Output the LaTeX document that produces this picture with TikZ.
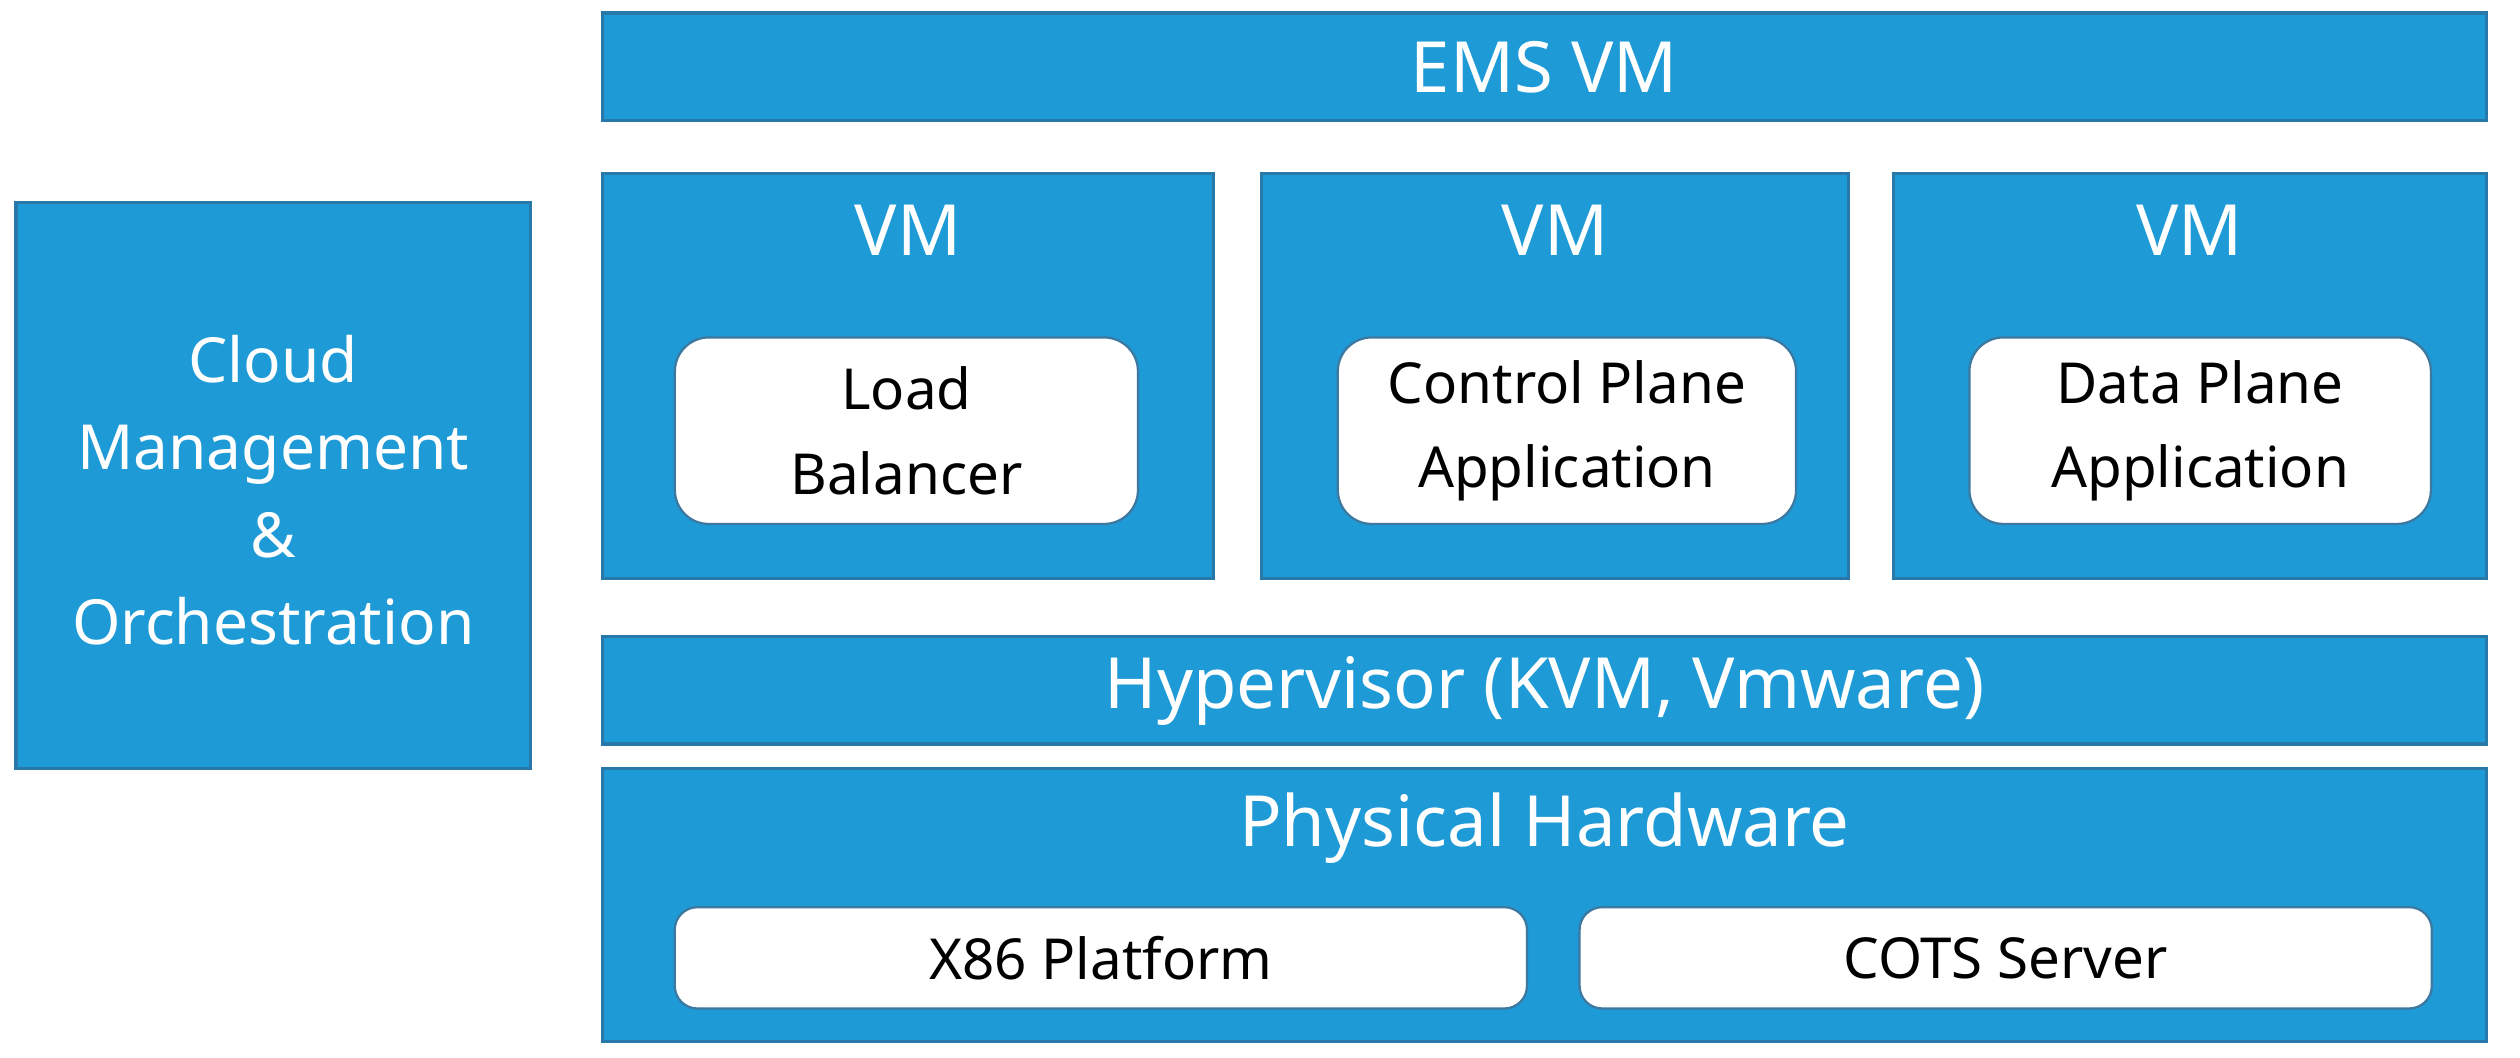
\documentclass[tikz,border=0pt]{standalone}
\usepackage{fontspec}
\setmainfont{Noto Sans}
\begin{document}
\begin{tikzpicture}[x=0.01cm,y=-0.01cm,
 blue/.style={fill={rgb,255:red,30;green,154;blue,214},draw={rgb,255:red,40;green,120;blue,170},line width=0.6pt,text=white},
 white/.style={fill=white,draw={rgb,255:red,60;green,120;blue,160},line width=0.4pt,rounded corners=6pt,text=black,align=center,font=\fontsize{10}{15}\selectfont}]
\useasboundingbox (0,0) rectangle (1568,658);
\path[blue] (375,8) rectangle (1547,75); \node[text=white,font=\fontsize{12.5}{15}\selectfont] (ems) at (961,42) {EMS VM};
\foreach \a/\b/\n in {375/755/1,785/1150/2,1178/1547/3}{
 \path[blue] (\a,108) rectangle (\b,360);
 \node[text=white,font=\fontsize{12.5}{15}\selectfont] (vm\n) at ({(\a+\b)/2},143) {VM};}
\node[white,minimum width=2.88cm,minimum height=1.16cm] (lb) at (564,268) {Load\\Balancer};
\node[white,minimum width=2.85cm,minimum height=1.16cm] (cp) at (975,268) {Control Plane\\Application};
\node[white,minimum width=2.87cm,minimum height=1.16cm] (dp) at (1369,268) {Data Plane\\Application};
\path[blue] (375,396) rectangle (1547,463); \node[text=white,font=\fontsize{12.5}{15}\selectfont] (hyp) at (961,430) {Hypervisor (KVM, Vmware)};
\path[blue] (375,478) rectangle (1547,648); \node[text=white,font=\fontsize{12.5}{15}\selectfont] (ph) at (961,515) {Physical Hardware};
\node[white,minimum width=5.3cm,minimum height=0.63cm,rounded corners=4pt] (x86) at (685,596) {X86 Platform};
\node[white,minimum width=5.3cm,minimum height=0.63cm,rounded corners=4pt] (cots) at (1248,596) {COTS Server};
\path[blue] (10,126) rectangle (330,478);
\node[text=white,align=center,font=\fontsize{11}{15.5}\selectfont] (cloud) at (170,305) {Cloud\\Management\\\&\\Orchestration};
\end{tikzpicture}
\end{document}
